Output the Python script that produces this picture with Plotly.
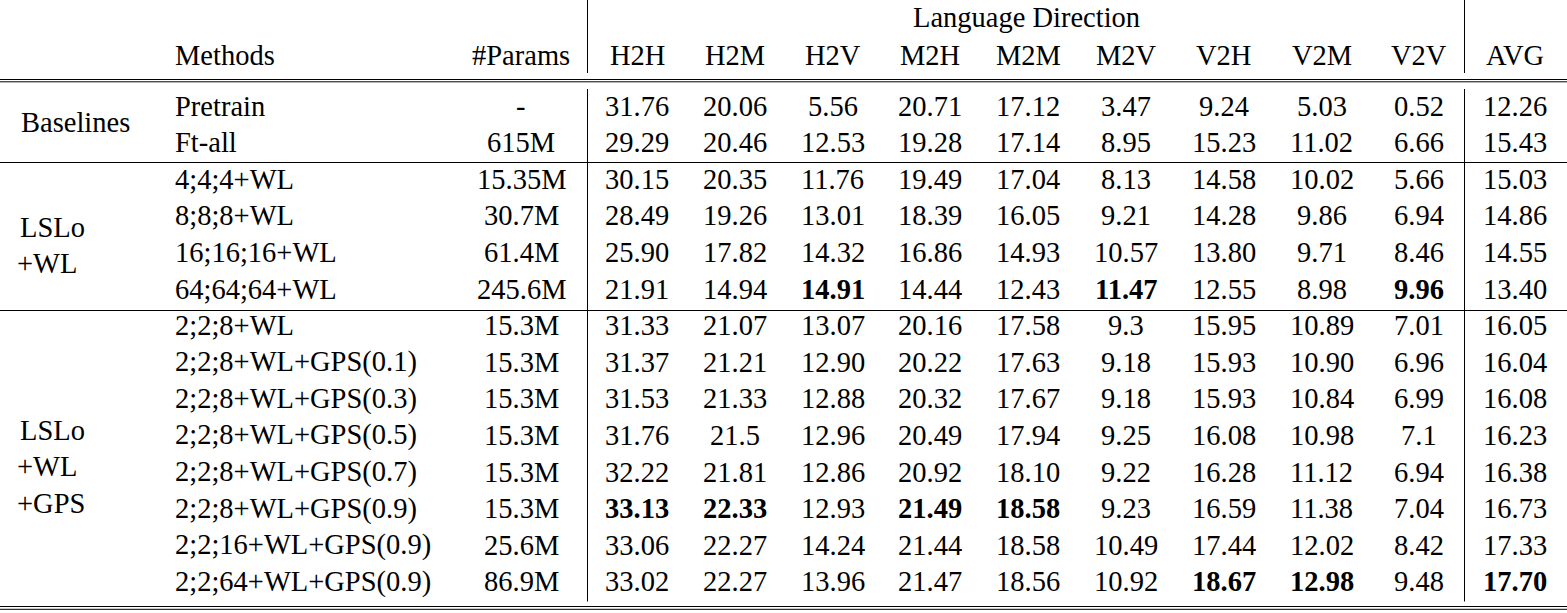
import plotly.graph_objects as go

# ---------------- data ----------------
GROUP_LABELS = [["Baselines"], ["LSLo", "+WL"], ["LSLo", "+WL", "+GPS"]]
GROUP_OF = [0, 0, 1, 1, 1, 1, 2, 2, 2, 2, 2, 2, 2, 2]

METHODS = [
    "Pretrain", "Ft-all",
    "4;4;4+WL", "8;8;8+WL", "16;16;16+WL", "64;64;64+WL",
    "2;2;8+WL", "2;2;8+WL+GPS(0.1)", "2;2;8+WL+GPS(0.3)", "2;2;8+WL+GPS(0.5)",
    "2;2;8+WL+GPS(0.7)", "2;2;8+WL+GPS(0.9)", "2;2;16+WL+GPS(0.9)", "2;2;64+WL+GPS(0.9)",
]
PARAMS = ["-", "615M", "15.35M", "30.7M", "61.4M", "245.6M",
          "15.3M", "15.3M", "15.3M", "15.3M", "15.3M", "15.3M", "25.6M", "86.9M"]

DIRECTIONS = ["H2H", "H2M", "H2V", "M2H", "M2M", "M2V", "V2H", "V2M", "V2V"]
H2H = ["31.76", "29.29", "30.15", "28.49", "25.90", "21.91", "31.33", "31.37", "31.53", "31.76", "32.22", "33.13", "33.06", "33.02"]
H2M = ["20.06", "20.46", "20.35", "19.26", "17.82", "14.94", "21.07", "21.21", "21.33", "21.5", "21.81", "22.33", "22.27", "22.27"]
H2V = ["5.56", "12.53", "11.76", "13.01", "14.32", "14.91", "13.07", "12.90", "12.88", "12.96", "12.86", "12.93", "14.24", "13.96"]
M2H = ["20.71", "19.28", "19.49", "18.39", "16.86", "14.44", "20.16", "20.22", "20.32", "20.49", "20.92", "21.49", "21.44", "21.47"]
M2M = ["17.12", "17.14", "17.04", "16.05", "14.93", "12.43", "17.58", "17.63", "17.67", "17.94", "18.10", "18.58", "18.58", "18.56"]
M2V = ["3.47", "8.95", "8.13", "9.21", "10.57", "11.47", "9.3", "9.18", "9.18", "9.25", "9.22", "9.23", "10.49", "10.92"]
V2H = ["9.24", "15.23", "14.58", "14.28", "13.80", "12.55", "15.95", "15.93", "15.93", "16.08", "16.28", "16.59", "17.44", "18.67"]
V2M = ["5.03", "11.02", "10.02", "9.86", "9.71", "8.98", "10.89", "10.90", "10.84", "10.98", "11.12", "11.38", "12.02", "12.98"]
V2V = ["0.52", "6.66", "5.66", "6.94", "8.46", "9.96", "7.01", "6.96", "6.99", "7.1", "6.94", "7.04", "8.42", "9.48"]
AVG = ["12.26", "15.43", "15.03", "14.86", "14.55", "13.40", "16.05", "16.04", "16.08", "16.23", "16.38", "16.73", "17.33", "17.70"]

# best results (shown in bold): (column, row index)
BOLD = {("H2V", 5), ("M2V", 5), ("V2V", 5),
        ("H2H", 11), ("H2M", 11), ("M2H", 11), ("M2M", 11),
        ("V2H", 13), ("V2M", 13), ("AVG", 13)}

COLUMNS = dict(zip(DIRECTIONS, [H2H, H2M, H2V, M2H, M2M, M2V, V2H, V2M, V2V]))
COLUMNS["AVG"] = AVG

# ---------------- layout constants ----------------
W, H = 1567, 613
FONT = "Liberation Serif"
FS = 28.5
ROW_Y0, ROW_STEP = 106, 36.6
HEAD1_Y, HEAD2_Y = 17, 55
GROUP_X, METHOD_X, PARAM_X = 19, 173, 521
DIR_X0, DIR_STEP = 637, 97.8
AVG_X = 1515
VLINE_L, VLINE_R = 587.5, 1464.5
LABEL_SHIFT = [-2, 11.5, 13]

row_y = [ROW_Y0 + i * ROW_STEP for i in range(len(METHODS))]
col_x = {d: DIR_X0 + i * DIR_STEP for i, d in enumerate(DIRECTIONS)}
col_x["AVG"] = AVG_X

fig = go.Figure()
fig.add_trace(go.Scatter(x=[0, W], y=[0, H], mode="markers",
                         marker=dict(opacity=0), hoverinfo="skip", showlegend=False))

ann = []


def txt(x, y, s, anchor="center", bold=False, xs=0):
    ann.append(dict(x=x, y=y, xref="x", yref="y", text=("<b>%s</b>" % s) if bold else s,
                    showarrow=False, xanchor=anchor, yanchor="middle", xshift=xs,
                    font=dict(family=FONT, size=FS, color="black")))


# header
txt((VLINE_L + VLINE_R) / 2, HEAD1_Y, "Language Direction")
txt(METHOD_X, HEAD2_Y, "Methods", anchor="left")
txt(PARAM_X, HEAD2_Y, "#Params")
for c in list(DIRECTIONS) + ["AVG"]:
    txt(col_x[c], HEAD2_Y, c)

# body
for i, m in enumerate(METHODS):
    txt(METHOD_X, row_y[i], m, anchor="left")
    txt(PARAM_X, row_y[i], PARAMS[i])
    for c, vals in COLUMNS.items():
        txt(col_x[c], row_y[i], vals[i], bold=(c, i) in BOLD)

# group labels
for g, lines in enumerate(GROUP_LABELS):
    rows = [row_y[i] for i, gg in enumerate(GROUP_OF) if gg == g]
    center = (rows[0] + rows[-1]) / 2 + LABEL_SHIFT[g]
    n = len(lines)
    for k, s in enumerate(lines):
        y = center + (k - (n - 1) / 2) * ROW_STEP
        xs = 3 if s == "LSLo" else 0
        txt(GROUP_X - 4 if s != "Baselines" else GROUP_X, y, s, anchor="left", xs=xs)

# rules
shapes = []


def hline(y):
    shapes.append(dict(type="line", xref="x", yref="y", x0=0, x1=W, y0=y, y1=y,
                       line=dict(color="black", width=1)))


def vline(x, y0, y1):
    shapes.append(dict(type="line", xref="x", yref="y", x0=x, x1=x, y0=y0, y1=y1,
                       line=dict(color="black", width=1)))


hline(79.5)
hline(81.8)
hline(162.5)
hline(310.5)
hline(606.5)
hline(609.3)
for x in (VLINE_L, VLINE_R):
    vline(x, 0, 73)
    vline(x, 89, 601.5)

fig.update_layout(
    width=W, height=H, margin=dict(l=0, r=0, t=0, b=0),
    paper_bgcolor="white", plot_bgcolor="white",
    font=dict(family=FONT, size=FS, color="black"),
    xaxis=dict(range=[0, W], visible=False, fixedrange=True),
    yaxis=dict(range=[H, 0], visible=False, fixedrange=True),
    annotations=ann, shapes=shapes, showlegend=False,
)
fig.write_html("out.html", config={"displayModeBar": False},
               post_script="document.body.style.margin='0px';document.body.style.overflow='hidden';")
